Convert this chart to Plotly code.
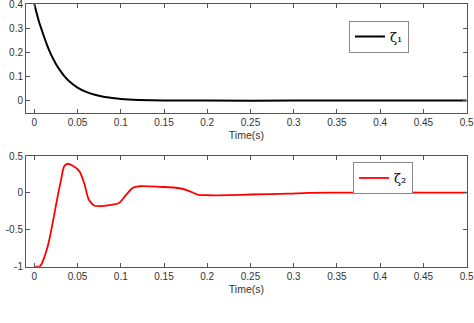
import plotly.graph_objects as go

# Time samples (s) and state trajectories
t1 = [0.0, 0.005, 0.01, 0.015, 0.02, 0.025, 0.03, 0.035, 0.04, 0.05, 0.06, 0.07,
      0.08, 0.09, 0.1, 0.12, 0.15, 0.2, 0.3, 0.4, 0.5]
zeta1 = [0.40, 0.332, 0.278, 0.228, 0.186, 0.152, 0.124, 0.100, 0.081, 0.054,
         0.036, 0.024, 0.016, 0.011, 0.007, 0.003, 0.001, 0.0, 0.0, 0.0, 0.0]

t2 = [0.0, 0.004, 0.007, 0.0097, 0.0154, 0.0212, 0.027, 0.031, 0.0346, 0.0385,
      0.044, 0.052, 0.0576, 0.063, 0.069, 0.075, 0.087, 0.098, 0.1064, 0.114,
      0.122, 0.145, 0.168, 0.18, 0.189, 0.202, 0.225, 0.25, 0.294, 0.317, 0.35,
      0.4, 0.45, 0.5]
zeta2 = [-1.0, -1.0, -0.99, -0.93, -0.73, -0.41, -0.046, 0.18, 0.36, 0.395,
         0.37, 0.295, 0.136, -0.09, -0.17, -0.18, -0.165, -0.136, -0.023, 0.068,
         0.09, 0.082, 0.063, 0.022, -0.023, -0.032, -0.030, -0.022, -0.01, 0.0,
         0.003, 0.005, 0.005, 0.005]

x_ticks = [0, 0.05, 0.1, 0.15, 0.2, 0.25, 0.3, 0.35, 0.4, 0.45, 0.5]
x_labels = ["0", "0.05", "0.1", "0.15", "0.2", "0.25", "0.3", "0.35", "0.4", "0.45", "0.5"]
y1_ticks = [0, 0.1, 0.2, 0.3, 0.4]
y1_labels = ["0", "0.1", "0.2", "0.3", "0.4"]
y2_ticks = [-1, -0.5, 0, 0.5]
y2_labels = ["-1", "-0.5", "0", "0.5"]

W, H = 474, 323
axis_col = "#555555"
text_col = "#333333"
tick_font = dict(family="Liberation Sans, Arial", size=10, color=text_col)
title_font = dict(family="Liberation Sans, Arial", size=10.5, color=text_col)
legend_font = dict(family="DejaVu Serif, Liberation Serif", size=13, color="black")

fig = go.Figure()
fig.add_trace(go.Scatter(x=t1, y=zeta1, mode="lines", name="ζ₁",
                         line=dict(color="black", width=2, shape="spline", smoothing=0.5),
                         xaxis="x", yaxis="y", legend="legend"))
fig.add_trace(go.Scatter(x=t2, y=zeta2, mode="lines", name="ζ₂",
                         line=dict(color="#ff0000", width=1.8, shape="spline", smoothing=0.8),
                         xaxis="x2", yaxis="y2", legend="legend2"))

common_axis = dict(showline=True, linecolor=axis_col, linewidth=1, mirror="ticks",
                   ticks="inside", ticklen=4, tickcolor=axis_col, showgrid=False,
                   zeroline=False, tickfont=tick_font, automargin=False,
                   ticklabeloverflow="allow")

x_rng = [-0.0096, 0.5002]
x_dom = [26 / W, 466.8 / W]
fig.update_layout(
    width=W, height=H,
    margin=dict(l=0, r=0, t=0, b=0, autoexpand=False),
    paper_bgcolor="white", plot_bgcolor="white",
    xaxis=dict(domain=x_dom, range=x_rng, tickvals=x_ticks, ticktext=x_labels,
               anchor="y", title=dict(text="Time(s)", standoff=4, font=title_font),
               **common_axis),
    yaxis=dict(domain=[1 - 112.7 / H, 1 - 4 / H], range=[-0.05, 0.4], tickvals=y1_ticks,
               ticktext=y1_labels, anchor="x", **common_axis),
    xaxis2=dict(domain=x_dom, range=x_rng, tickvals=x_ticks, ticktext=x_labels,
                anchor="y2", title=dict(text="Time(s)", standoff=4, font=title_font),
                **common_axis),
    yaxis2=dict(domain=[1 - 266.7 / H, 1 - 156 / H], range=[-1, 0.5], tickvals=y2_ticks,
                ticktext=y2_labels, anchor="x2", **common_axis),
    legend=dict(x=349 / W, y=1 - 20.5 / H, xanchor="left", yanchor="top",
                bgcolor="white", bordercolor="#888888", borderwidth=1,
                font=legend_font, itemwidth=30, tracegroupgap=0),
    legend2=dict(x=353 / W, y=1 - 162 / H, xanchor="left", yanchor="top",
                 bgcolor="white", bordercolor="#888888", borderwidth=1,
                 font=legend_font, itemwidth=30, tracegroupgap=0),
    showlegend=True,
)

fig.write_html("out.html")
